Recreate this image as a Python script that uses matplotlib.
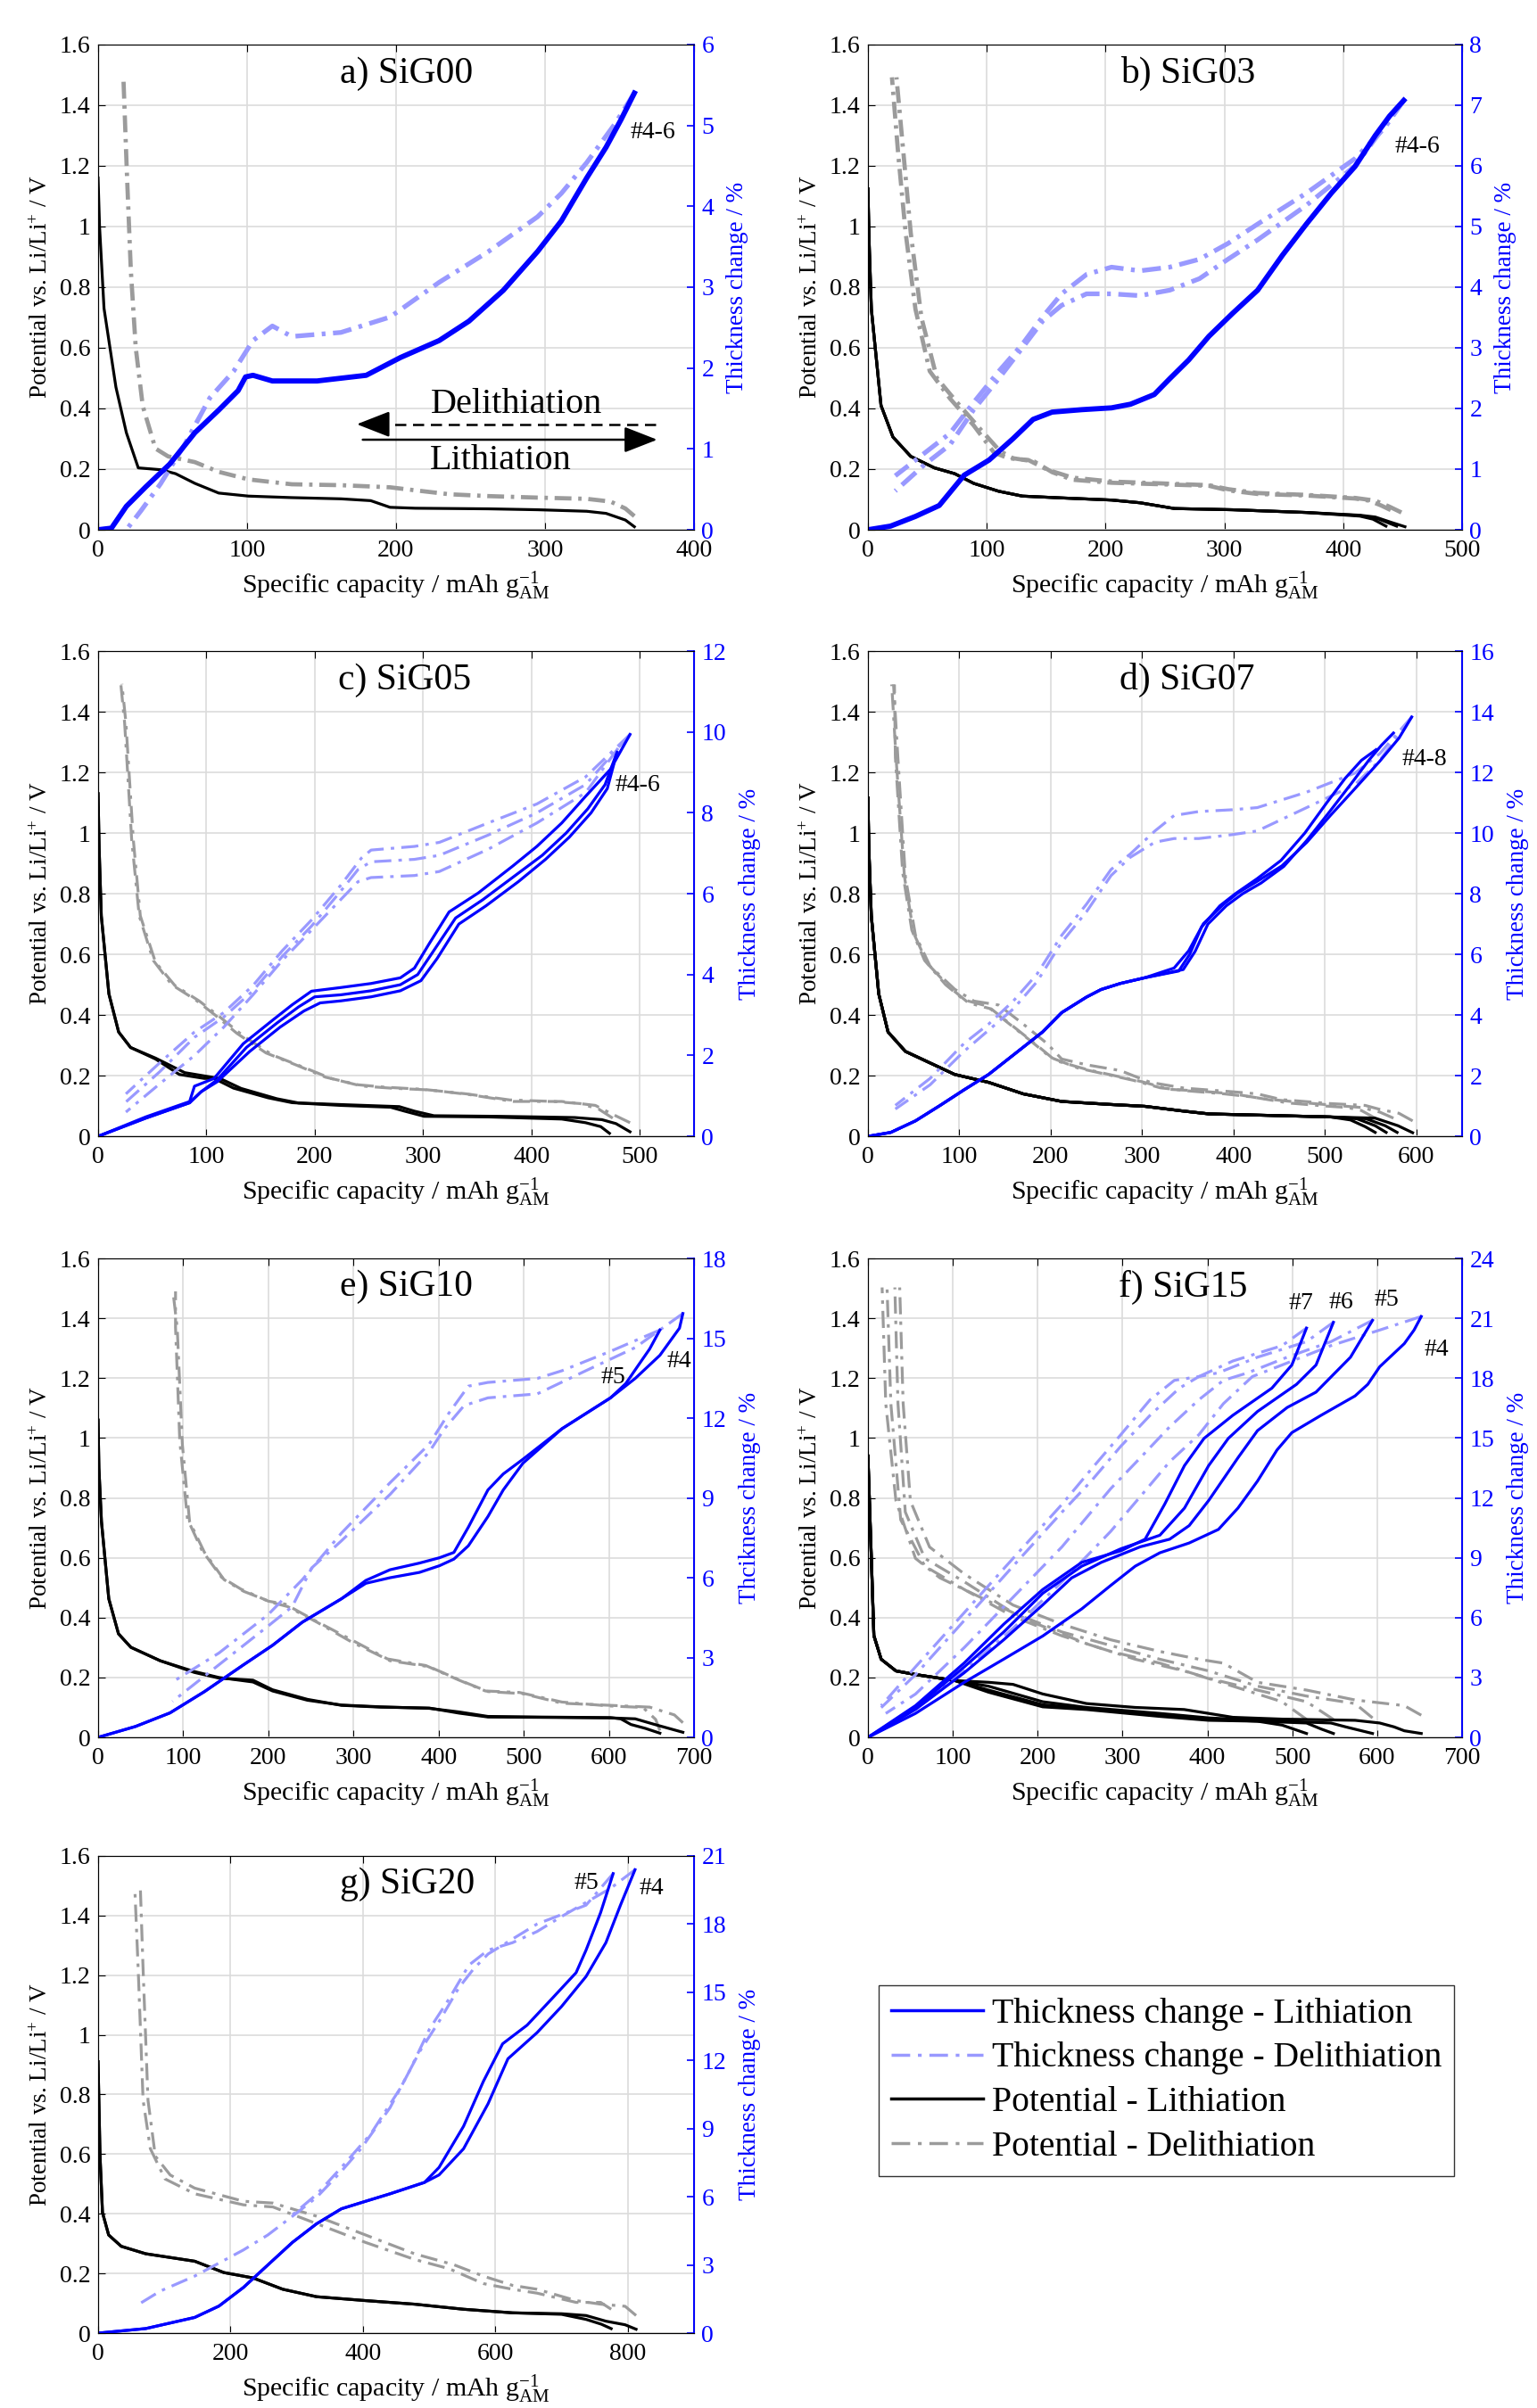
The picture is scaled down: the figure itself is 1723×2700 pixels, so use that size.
import matplotlib
matplotlib.use("Agg")
import matplotlib.pyplot as plt
from matplotlib.lines import Line2D
from matplotlib.ticker import FuncFormatter

plt.rcParams['font.family'] = ['Liberation Serif', 'DejaVu Serif']
plt.rcParams['mathtext.fontset'] = 'custom'
plt.rcParams['mathtext.rm'] = 'Liberation Serif'
plt.rcParams['mathtext.it'] = 'Liberation Serif:italic'

BLUE = '#0000FF'
LBLUE = '#9999FF'
GRAY = '#9B9B9B'
DASHDOT = (0, (6, 2.5, 1.2, 2.5))

# ---------------- a) SiG00 ----------------
a_pot_li = [[(0, 1.16), (1, 1.0), (4, 0.73), (12, 0.47), (19, 0.32), (27, 0.204), (42, 0.198),
             (52, 0.185), (65, 0.153), (81, 0.121), (101, 0.111), (130, 0.106), (163, 0.102),
             (183, 0.096), (196, 0.074), (213, 0.071), (262, 0.069), (295, 0.066), (328, 0.061),
             (341, 0.054), (354, 0.032), (360, 0.01)]]
a_pot_de = [[(360, 0.045), (354, 0.07), (344, 0.093), (328, 0.102), (295, 0.106), (262, 0.111),
             (236, 0.117), (213, 0.13), (196, 0.14), (163, 0.147), (130, 0.15), (101, 0.166),
             (81, 0.191), (65, 0.223), (47, 0.242), (38.5, 0.268), (30, 0.408), (25.3, 0.6),
             (22, 0.855), (19.4, 1.17), (17.1, 1.479)]]
a_th_li = [[(0, 0), (9, 0.02), (19, 0.29), (32, 0.53), (48, 0.81), (65, 1.2), (81, 1.48),
            (94, 1.72), (99, 1.89), (104, 1.91), (117, 1.84), (147, 1.84), (180, 1.91),
            (203, 2.13), (229, 2.34), (249, 2.58), (272, 2.96), (295, 3.44), (311, 3.82),
            (328, 4.35), (341, 4.73), (351, 5.07), (360, 5.4)]]
a_th_de = [[(360, 5.4), (347, 5.02), (328, 4.54), (311, 4.16), (295, 3.87), (262, 3.44),
            (229, 3.06), (196, 2.63), (163, 2.44), (130, 2.39), (117, 2.52), (104, 2.34),
            (91, 1.96), (75, 1.63), (58, 1.05), (42, 0.57), (29, 0.24), (19, 0)]]

# ---------------- b) SiG03 ----------------
b_li_head = [(0, 1.124), (1, 0.95), (2.9, 0.727), (11, 0.41), (21, 0.306), (36, 0.242),
             (56, 0.204), (73, 0.185), (89, 0.153), (110, 0.127), (130, 0.111), (163, 0.105),
             (205, 0.098), (229, 0.089), (258, 0.07), (307, 0.066), (369, 0.057)]
b_pot_li = [b_li_head + [(414, 0.045), (425, 0.035), (436, 0.012)],
            b_li_head + [(414, 0.047), (430, 0.035), (445, 0.012)],
            b_li_head + [(414, 0.048), (427, 0.042), (440, 0.025), (452, 0.01)]]
b_pot_de = [[(449, 0.057), (439, 0.076), (427, 0.096), (410, 0.105), (369, 0.115), (328, 0.121),
             (303, 0.134), (287, 0.147), (246, 0.153), (205, 0.159), (172, 0.172), (151, 0.198),
             (135, 0.23), (118, 0.236), (106, 0.255), (89, 0.344), (69, 0.433), (52, 0.523),
             (40, 0.727), (31.7, 0.98), (25.5, 1.237), (20.2, 1.492)],
            [(440, 0.065), (432, 0.08), (422, 0.096), (410, 0.103), (369, 0.113), (328, 0.118),
             (303, 0.13), (287, 0.145), (246, 0.15), (205, 0.155), (172, 0.165), (155, 0.19),
             (140, 0.225), (122, 0.236), (111, 0.26), (95, 0.33), (75, 0.42), (58, 0.5),
             (45, 0.7), (36, 0.98), (30, 1.237), (24, 1.492)]]
b_th_li = [[(0, 0), (19, 0.06), (40, 0.22), (60, 0.4), (81, 0.9), (102, 1.15), (122, 1.5),
            (139, 1.82), (155, 1.94), (180, 1.98), (205, 2.01), (221, 2.07), (241, 2.23),
            (254, 2.49), (270, 2.8), (287, 3.19), (307, 3.57), (328, 3.95), (349, 4.53),
            (369, 5.04), (390, 5.55), (410, 5.99), (427, 6.5), (439, 6.82), (451, 7.08)]]
b_th_de = [[(451, 7.08), (435, 6.63), (410, 6.12), (369, 5.55), (328, 5.04), (303, 4.72),
            (279, 4.46), (254, 4.33), (229, 4.27), (205, 4.33), (184, 4.21), (163, 3.89),
            (147, 3.51), (130, 3.06), (110, 2.61), (89, 2.1), (69, 1.59), (48, 1.27), (23, 0.89)],
           [(451, 7.08), (410, 6.0), (369, 5.35), (328, 4.78), (303, 4.46), (279, 4.14),
            (254, 3.95), (229, 3.86), (205, 3.89), (184, 3.89), (163, 3.7), (147, 3.44),
            (130, 3.0), (110, 2.49), (89, 1.98), (69, 1.4), (48, 1.08), (23, 0.64)]]

# ---------------- c) SiG05 ----------------
c_pot_li = [[(0, 1.13), (1, 0.95), (3, 0.727), (10, 0.47), (19, 0.344), (30, 0.293), (53, 0.255),
             (75, 0.204), (98, 0.191), (107, 0.191), (125, 0.159), (157, 0.127), (179, 0.111),
             (224, 0.102), (270, 0.096), (283, 0.083), (301, 0.066), (360, 0.064), (428, 0.057),
             (450, 0.045), (464, 0.032), (472, 0.01)],
            [(0, 1.13), (1, 0.95), (3, 0.727), (10, 0.47), (19, 0.344), (30, 0.293), (53, 0.258),
             (80, 0.21), (105, 0.195), (113, 0.19), (132, 0.158), (165, 0.124), (185, 0.11),
             (230, 0.104), (278, 0.098), (292, 0.083), (310, 0.068), (370, 0.066), (440, 0.062),
             (465, 0.055), (478, 0.042), (491, 0.015)]]
c_pot_de = [[(491, 0.045), (473, 0.076), (459, 0.102), (428, 0.115), (383, 0.115), (342, 0.138),
             (306, 0.153), (270, 0.159), (243, 0.166), (215, 0.191), (188, 0.23), (161, 0.268),
             (134, 0.331), (112, 0.395), (93.5, 0.446), (71, 0.497), (53, 0.574), (39, 0.727),
             (32.5, 0.98), (25.7, 1.364), (22, 1.492)],
            [(475, 0.06), (462, 0.09), (445, 0.108), (420, 0.115), (380, 0.12), (340, 0.14),
             (300, 0.155), (265, 0.162), (240, 0.17), (210, 0.195), (183, 0.235), (155, 0.275),
             (128, 0.34), (108, 0.4), (90, 0.45), (68, 0.5), (51, 0.58), (38, 0.727), (31, 0.98),
             (24.5, 1.364), (21, 1.492)]]
c_th_li = [[(0, 0), (44, 0.48), (84.5, 0.86), (89, 1.24), (107, 1.43), (134, 2.29), (161, 2.87),
            (179, 3.25), (197, 3.59), (224, 3.68), (252, 3.78), (279, 3.92), (292, 4.16),
            (306, 4.78), (324, 5.55), (351, 6.02), (383, 6.69), (405, 7.17), (428, 7.75),
            (450, 8.41), (473, 9.08), (491, 9.94)],
           [(0, 0), (44, 0.45), (84.5, 0.83), (95, 1.1), (110, 1.4), (137, 2.2), (165, 2.8),
            (185, 3.2), (200, 3.45), (224, 3.5), (252, 3.6), (279, 3.75), (295, 4.0), (310, 4.6),
            (330, 5.4), (355, 5.85), (385, 6.45), (410, 6.95), (432, 7.5), (452, 8.1), (468, 8.7),
            (479, 9.5)],
           [(0, 0), (44, 0.45), (84.5, 0.83), (95, 1.1), (110, 1.35), (140, 2.1), (168, 2.7),
            (190, 3.1), (205, 3.3), (224, 3.35), (252, 3.45), (279, 3.6), (298, 3.85), (313, 4.4),
            (333, 5.25), (358, 5.7), (388, 6.3), (413, 6.85), (435, 7.4), (455, 8.0), (470, 8.6),
            (476, 9.2)]]
c_th_de = [[(491, 9.94), (450, 8.89), (405, 8.22), (360, 7.75), (315, 7.27), (292, 7.17),
            (252, 7.08), (243, 6.88), (224, 6.21), (197, 5.35), (170, 4.59), (143, 3.73),
            (116, 3.06), (89, 2.58), (57, 1.82), (25.7, 1.05)],
           [(491, 9.94), (450, 8.7), (405, 8.0), (360, 7.45), (315, 6.95), (292, 6.85),
            (252, 6.79), (240, 6.6), (222, 6.0), (197, 5.2), (170, 4.45), (143, 3.6),
            (116, 2.95), (89, 2.45), (57, 1.6), (25.7, 0.85)],
           [(480, 9.6), (450, 8.5), (405, 7.75), (360, 7.1), (315, 6.55), (292, 6.45),
            (252, 6.4), (240, 6.3), (222, 5.8), (197, 5.1), (170, 4.35), (143, 3.5),
            (116, 2.7), (89, 2.0), (57, 1.3), (25.7, 0.6)]]

# ---------------- d) SiG07 ----------------
d_li_head = [(0, 1.116), (1, 0.95), (3.7, 0.727), (11.8, 0.47), (22, 0.344), (41, 0.28),
             (68, 0.242), (95, 0.204), (132, 0.178), (170, 0.14), (212, 0.115), (266, 0.105),
             (303, 0.099), (346, 0.083), (373, 0.074), (426, 0.07), (506, 0.064)]
d_pot_li = [d_li_head + [(528, 0.054), (544, 0.032), (555, 0.013)],
            d_li_head + [(535, 0.058), (555, 0.035), (567, 0.013)],
            d_li_head + [(545, 0.058), (566, 0.035), (579, 0.013)],
            d_li_head + [(555, 0.06), (580, 0.035), (596, 0.012)]]
d_pot_de = [[(596, 0.051), (581, 0.076), (560, 0.089), (544, 0.102), (506, 0.108), (453, 0.121),
             (426, 0.14), (399, 0.147), (346, 0.159), (309, 0.178), (276, 0.217), (239, 0.236),
             (212, 0.255), (196, 0.306), (170, 0.37), (143, 0.433), (116, 0.446), (95, 0.485),
             (68, 0.561), (52, 0.663), (41, 0.855), (33, 1.237), (28, 1.49)],
            [(575, 0.06), (560, 0.08), (540, 0.095), (520, 0.1), (480, 0.11), (430, 0.125),
             (400, 0.14), (360, 0.15), (330, 0.155), (300, 0.18), (270, 0.2), (240, 0.22),
             (205, 0.25), (185, 0.3), (160, 0.36), (135, 0.42), (110, 0.44), (90, 0.49),
             (65, 0.57), (50, 0.67), (40, 0.855), (31, 1.237), (26, 1.49)],
            [(555, 0.06), (540, 0.085), (525, 0.095), (500, 0.1), (460, 0.11), (420, 0.13),
             (390, 0.14), (350, 0.15), (320, 0.16), (290, 0.185), (260, 0.205), (230, 0.225),
             (200, 0.26), (180, 0.31), (155, 0.37), (130, 0.43), (105, 0.45), (85, 0.5),
             (62, 0.58), (48, 0.68), (38, 0.87), (30, 1.25), (29, 1.49)]]
d_th_head = [(0, 0), (25, 0.13), (52, 0.51), (79, 1.02), (105, 1.53), (132, 2.04), (159, 2.68),
             (191, 3.44), (212, 4.08), (239, 4.59), (255, 4.84), (276, 5.04), (303, 5.23)]
d_th_li = [d_th_head + [(335, 5.55), (351, 6.12), (367, 7.01), (389, 7.65), (405, 8.03),
                        (426, 8.41), (453, 8.92), (480, 9.69), (506, 10.58), (533, 11.47),
                        (560, 12.37), (581, 13.13), (595, 13.83)],
           d_th_head + [(345, 5.5), (358, 6.1), (372, 7.0), (392, 7.6), (410, 8.0), (430, 8.35),
                        (455, 8.9), (480, 9.75), (505, 10.7), (528, 11.6), (548, 12.4),
                        (562, 12.9), (575, 13.3)],
           d_th_head + [(340, 5.45), (352, 6.0), (365, 6.9), (385, 7.6), (402, 8.0), (426, 8.5),
                        (452, 9.1), (478, 10.0), (502, 11.0), (522, 11.8), (540, 12.4),
                        (556, 12.75)]]
d_th_de = [[(595, 13.83), (560, 12.62), (533, 11.98), (480, 11.35), (426, 10.84), (399, 10.77),
            (362, 10.71), (335, 10.58), (314, 10.07), (287, 9.31), (266, 8.8), (239, 7.65),
            (212, 6.63), (185, 5.35), (159, 4.46), (132, 3.7), (105, 3.06), (68, 1.91), (30, 1.02)],
           [(595, 13.83), (560, 12.4), (533, 11.6), (480, 10.84), (426, 10.07), (399, 9.95),
            (362, 9.82), (335, 9.82), (314, 9.7), (287, 9.2), (266, 8.6), (239, 7.4), (212, 6.4),
            (185, 5.1), (159, 4.2), (132, 3.5), (105, 2.8), (68, 1.7), (30, 0.9)]]

# ---------------- e) SiG10 ----------------
e_pot_li = [[(0, 1.06), (1, 0.9), (4, 0.721), (12.6, 0.463), (24, 0.346), (38.5, 0.301),
             (73, 0.256), (113, 0.217), (142, 0.198), (182, 0.191), (205, 0.159), (246, 0.127),
             (286, 0.107), (332, 0.101), (389, 0.098), (424, 0.081), (458, 0.068), (516, 0.067),
             (602, 0.065), (631, 0.062), (654, 0.043), (687, 0.017)],
            [(0, 1.06), (1, 0.9), (4, 0.721), (12.6, 0.463), (24, 0.346), (38.5, 0.301),
             (73, 0.256), (113, 0.22), (142, 0.2), (182, 0.185), (205, 0.155), (246, 0.124),
             (286, 0.108), (332, 0.102), (389, 0.097), (424, 0.085), (458, 0.07), (516, 0.068),
             (602, 0.066), (614, 0.062), (626, 0.043), (643, 0.03), (660, 0.014)]]
e_pot_de = [[(687, 0.049), (677, 0.075), (648, 0.101), (602, 0.107), (545, 0.114), (499, 0.146),
             (458, 0.153), (430, 0.185), (389, 0.236), (343, 0.256), (297, 0.32), (257, 0.385),
             (222.6, 0.437), (205, 0.45), (171, 0.488), (148, 0.527), (125, 0.618),
             (107.5, 0.721), (99, 0.98), (93, 1.367), (88, 1.49)],
            [(660, 0.023), (655, 0.06), (640, 0.1), (600, 0.105), (545, 0.118), (495, 0.15),
             (455, 0.155), (425, 0.19), (385, 0.24), (340, 0.262), (295, 0.33), (255, 0.39),
             (220, 0.445), (200, 0.455), (168, 0.495), (145, 0.535), (122, 0.625), (105, 0.73),
             (96, 0.99), (91, 1.37), (91, 1.49)]]
e_th_li = [[(0, 0), (44, 0.41), (84.5, 0.92), (125, 1.72), (171, 2.73), (205, 3.46), (240, 4.33),
            (286, 5.21), (314.6, 5.79), (343, 6.0), (377.5, 6.2), (401, 6.45), (418, 6.7),
            (435, 7.2), (458, 8.3), (476, 9.3), (499, 10.3), (545, 11.6), (602, 12.76),
            (631, 13.49), (660, 14.36), (683, 15.38), (687, 15.93)],
           [(0, 0), (44, 0.41), (84.5, 0.92), (125, 1.72), (171, 2.73), (205, 3.46), (240, 4.33),
            (286, 5.21), (314.6, 5.9), (343, 6.3), (377.5, 6.55), (401, 6.75), (418, 6.95),
            (435, 7.9), (458, 9.3), (476, 9.9), (499, 10.45), (545, 11.6), (602, 12.76),
            (620, 13.3), (635, 14.0), (648, 14.6), (660, 15.31)]]
e_th_de = [[(660, 15.31), (602, 14.51), (545, 13.78), (516, 13.49), (458, 13.34), (435, 13.2),
            (412, 12.18), (389, 11.02), (343, 9.57), (286, 7.68), (240, 5.93), (200, 4.62),
            (142, 3.17), (87.4, 2.08)],
           [(687, 15.93), (631, 14.65), (573, 13.78), (516, 12.91), (458, 12.76), (430, 12.47),
            (407, 11.6), (389, 10.73), (343, 9.13), (286, 7.39), (251, 6.37), (228, 4.91),
            (200, 4.19), (148, 2.88), (87.4, 1.35)]]

# ---------------- f) SiG15 (cycles #4..#7) ----------------
f_li_head = [(0, 0.94), (1, 0.856), (4, 0.6), (7, 0.34), (15.6, 0.261), (33, 0.222),
             (56, 0.21), (102, 0.19)]
f_pot_li = [f_li_head + [(142, 0.184), (171, 0.177), (206, 0.145), (257.5, 0.113), (315, 0.1),
                         (372.6, 0.093), (401.5, 0.08), (430, 0.067), (488, 0.061), (574, 0.057),
                         (603, 0.048), (620, 0.035), (632, 0.022), (652, 0.013)],
            f_li_head + [(142, 0.171), (206, 0.119), (257.5, 0.1), (344, 0.08), (401.5, 0.065),
                         (459, 0.057), (545.6, 0.048), (563, 0.035), (594.6, 0.013)],
            f_li_head + [(142, 0.158), (206, 0.109), (257.5, 0.096), (344, 0.074), (401.5, 0.061),
                         (459, 0.054), (516.8, 0.048), (534, 0.028), (548.5, 0.013)],
            f_li_head + [(142, 0.151), (206, 0.102), (257.5, 0.093), (344, 0.07), (401.5, 0.057),
                         (459, 0.054), (488, 0.041), (516.8, 0.013)]]
f_pot_de = [[(652, 0.074), (632, 0.106), (574, 0.125), (516.8, 0.158), (459, 0.184),
             (418.8, 0.248), (390, 0.261), (344, 0.287), (286, 0.326), (228.7, 0.378),
             (171, 0.442), (113.5, 0.546), (72.6, 0.636), (50, 0.79), (41.5, 1.115),
             (37.4, 1.503)],
            [(594.6, 0.065), (574, 0.113), (516.8, 0.138), (459, 0.171), (401.5, 0.222),
             (344, 0.261), (286, 0.307), (228.7, 0.352), (171, 0.416), (113.5, 0.52), (67, 0.598),
             (44, 0.753), (35.4, 1.115), (31.7, 1.503)],
            [(548.5, 0.06), (516.8, 0.119), (459, 0.158), (401.5, 0.197), (344, 0.248),
             (286, 0.287), (228.7, 0.339), (171, 0.404), (113.5, 0.494), (67, 0.572),
             (38.6, 0.727), (27, 1.115), (22.5, 1.503)],
            [(516.8, 0.06), (488, 0.119), (430, 0.171), (372.6, 0.222), (315, 0.261),
             (257.5, 0.313), (200, 0.378), (142, 0.455), (84.7, 0.533), (56, 0.598), (33, 0.79),
             (21, 1.115), (16.7, 1.503)]]
f_th_li = [[(0, 0), (56, 1.2), (113.5, 2.76), (160, 3.92), (206, 5.08), (252, 6.44), (286, 7.61),
            (315, 8.58), (344, 9.25), (378.5, 9.74), (413, 10.42), (436, 11.49), (459, 12.84),
            (482, 14.4), (499.5, 15.27), (534, 16.14), (574, 17.11), (589, 17.69), (603, 18.57),
            (632, 19.73), (643.5, 20.41), (652, 21.09)],
           [(0, 0), (56, 1.4), (113.5, 3.24), (160, 4.89), (206, 6.64), (240, 7.99), (275, 8.77),
            (321, 9.55), (355.5, 9.93), (378.5, 10.61), (401.5, 11.87), (436, 14.01),
            (459, 15.37), (494, 16.53), (528, 17.3), (568.6, 19.05), (594.6, 20.9)],
           [(0, 0), (56, 1.49), (113.5, 3.53), (160, 5.28), (206, 7.22), (252, 8.58), (298, 9.45),
            (344, 10.13), (373, 11.49), (401.5, 13.62), (424.6, 14.98), (459, 16.33),
            (505, 17.69), (528, 18.66), (548.5, 20.8)],
           [(0, 0), (56, 1.59), (113.5, 3.73), (160, 5.67), (206, 7.41), (252, 8.77), (298, 9.35),
            (326.6, 9.93), (349.6, 11.68), (373, 13.62), (396, 14.98), (430, 16.14),
            (476, 17.5), (499.5, 18.66), (516.8, 20.51)]]
f_th_de = [[(652, 21.09), (603, 20.41), (545.6, 19.63), (488, 18.66), (453, 18.08),
            (418.8, 16.72), (390, 15.17), (355.5, 13.81), (321, 12.07), (286, 10.32),
            (228.7, 7.8), (171, 5.47), (113.5, 3.34), (56, 1.4), (32.8, 0.81)],
           [(594.6, 20.9), (545.6, 19.83), (494, 19.05), (447.7, 18.27), (418.8, 17.89),
            (390, 16.92), (355.5, 15.56), (321, 14.01), (286, 12.46), (228.7, 9.55), (171, 7.02),
            (113.5, 4.5), (56, 2.17), (21, 1.2)],
           [(548.5, 20.8), (516.8, 19.83), (459, 19.05), (413, 18.27), (390, 18.08), (367, 17.5),
            (332.5, 16.14), (298, 14.59), (263, 12.84), (228.7, 11.29), (171, 8.58),
            (113.5, 5.86), (56, 3.14), (15.6, 1.49)],
           [(516.8, 20.51), (488, 19.63), (430, 18.86), (390, 18.08), (361, 17.89),
            (332.5, 16.92), (298, 15.17), (263, 13.43), (228.7, 11.68), (171, 8.97),
            (113.5, 6.25), (56, 3.53), (15.6, 1.59)]]

# ---------------- g) SiG20 (cycles #4, #5) ----------------
g_li_head = [(0, 0.91), (3, 0.593), (6.7, 0.404), (16, 0.329), (35, 0.291), (72, 0.266),
             (146, 0.241), (190, 0.203), (234, 0.185), (279, 0.147), (330, 0.122), (404, 0.109),
             (478, 0.097), (552, 0.08), (626, 0.068)]
g_pot_li = [g_li_head + [(700, 0.065), (737, 0.059), (767, 0.04), (796, 0.028), (812.6, 0.013)],
            g_li_head + [(700, 0.063), (737, 0.046), (760, 0.03), (775, 0.015)]]
g_pot_de = [[(812.6, 0.059), (796, 0.09), (759, 0.097), (722, 0.109), (663, 0.147), (626, 0.16),
             (582, 0.191), (537.6, 0.229), (478, 0.266), (404, 0.329), (330, 0.392), (264, 0.436),
             (219.6, 0.442), (146, 0.486), (109, 0.53), (86.5, 0.593), (75.4, 0.781),
             (68, 1.221), (64, 1.484)],
            [(775, 0.08), (759, 0.103), (722, 0.103), (663, 0.134), (626, 0.147), (582, 0.166),
             (530, 0.216), (478, 0.247), (404, 0.304), (330, 0.367), (264, 0.423), (219.6, 0.43),
             (146, 0.467), (101, 0.517), (79, 0.618), (68, 0.781), (60.6, 1.221), (55.5, 1.491)]]
g_th_head = [(0, 0), (72, 0.2), (146, 0.69), (182.6, 1.19), (219.6, 2.01), (256.5, 3.0),
             (293.5, 3.99), (330, 4.81), (367.5, 5.47), (404, 5.8), (441, 6.13), (493, 6.63)]
g_th_li = [g_th_head + [(515, 6.96), (552, 8.11), (589, 10.09), (619, 12.07), (663, 13.22),
                        (700, 14.37), (737, 15.69), (767, 17.18), (789, 18.83), (811, 20.39)],
           g_th_head + [(515, 7.29), (552, 9.1), (582, 11.08), (611, 12.73), (648, 13.55),
                        (685, 14.7), (722, 15.86), (737, 16.85), (759, 18.5), (778, 20.22)]]
g_th_de = [[(811, 20.39), (774, 19.57), (700, 18.33), (663, 17.67), (626, 17.18), (589, 16.85),
            (560, 16.19), (530, 14.7), (500.6, 13.38), (471, 11.57), (441, 9.92), (397, 8.11),
            (367.5, 7.12), (330, 5.97), (293.5, 5.14), (256.5, 4.32), (219.6, 3.66), (146, 2.51),
            (94, 1.85), (57, 1.19)],
           [(778, 20.22), (737, 18.83), (663, 18.0), (626, 17.34), (589, 16.68), (567, 16.02),
            (545, 15.2), (515, 13.71), (486, 12.4), (456, 10.75), (412, 8.77), (367.5, 7.29),
            (330, 6.1), (293.5, 5.2)]]

# panel layout / axis settings
COL_X = [0.0638, 0.5647]
COL_W = [0.3877, 0.3865]
ROW_Y = [0.780, 0.5281, 0.2785, 0.0311]
ROW_H = [0.2015, 0.2015, 0.1989, 0.1982]

panels = [
    dict(title='a) SiG00', r=0, c=0, xmax=400, xticks=range(0, 401, 100), rmax=6, rstep=1,
         tx=0.517, data=(a_pot_li, a_pot_de, a_th_li, a_th_de), notes=[('#4-6', 357, 1.31)],
         rlabel='Thickness change / %', wide=True),
    dict(title='b) SiG03', r=0, c=1, xmax=500, xticks=range(0, 501, 100), rmax=8, rstep=1,
         tx=0.538, data=(b_pot_li, b_pot_de, b_th_li, b_th_de), notes=[('#4-6', 443, 1.262)],
         rlabel='Thickness change / %', wide=True),
    dict(title='c) SiG05', r=1, c=0, xmax=550, xticks=range(0, 501, 100), rmax=12, rstep=2,
         tx=0.515, data=(c_pot_li, c_pot_de, c_th_li, c_th_de), notes=[('#4-6', 477, 1.158)],
         rlabel='Thickness change / %', wide=False),
    dict(title='d) SiG07', r=1, c=1, xmax=650, xticks=range(0, 601, 100), rmax=16, rstep=2,
         tx=0.537, data=(d_pot_li, d_pot_de, d_th_li, d_th_de), notes=[('#4-8', 584, 1.243)],
         rlabel='Thickness change / %', wide=False),
    dict(title='e) SiG10', r=2, c=0, xmax=700, xticks=range(0, 701, 100), rmax=18, rstep=3,
         tx=0.517, data=(e_pot_li, e_pot_de, e_th_li, e_th_de),
         notes=[('#5', 591, 1.202), ('#4', 668, 1.257)],
         rlabel='Thcikness change / %', wide=False),
    dict(title='f) SiG15', r=2, c=1, xmax=700, xticks=range(0, 701, 100), rmax=24, rstep=3,
         tx=0.53, data=(f_pot_li, f_pot_de, f_th_li, f_th_de),
         notes=[('#7', 496, 1.449), ('#6', 543, 1.454), ('#5', 597, 1.461), ('#4', 655, 1.296)],
         rlabel='Thickness change / %', wide=False),
    dict(title='g) SiG20', r=3, c=0, xmax=900, xticks=range(0, 801, 200), rmax=21, rstep=3,
         tx=0.519, data=(g_pot_li, g_pot_de, g_th_li, g_th_de),
         notes=[('#5', 719, 1.507), ('#4', 817, 1.49)],
         rlabel='Thickness change / %', wide=False),
]

# arrows in panel a: (x_start, x_tip, y)
arrow_delith = (374, 172, 0.348)
arrow_lith = (176, 377, 0.297)

TICK_FS = 20
XLABEL_FS = 21.5
YLABEL_FS = 19.5

fig = plt.figure(figsize=(17.23, 27.0), dpi=100)


def draw(ax, cycles, **kw):
    for cyc in cycles:
        xs = [p[0] for p in cyc]
        ys = [p[1] for p in cyc]
        ax.plot(xs, ys, **kw)


for p in panels:
    ax = fig.add_axes([COL_X[p['c']], ROW_Y[p['r']], COL_W[p['c']], ROW_H[p['r']]])
    ax2 = ax.twinx()
    pot_li, pot_de, th_li, th_de = p['data']
    wide = p['wide']

    # a) and b) are noisy bands in the original, drawn thicker here
    draw(ax, pot_de, color=GRAY, lw=3.4 if wide else 2.3,
         ls=(0, (4, 1.6, 0.8, 1.6)) if wide else DASHDOT)
    draw(ax, pot_li, color='k', lw=2.3)
    draw(ax2, th_de, color=LBLUE, lw=3.8 if wide else 2.3,
         ls=(0, (4, 1.6, 0.8, 1.6)) if wide else DASHDOT)
    draw(ax2, th_li, color=BLUE, lw=4.2 if wide else 2.3)

    ax.set_xlim(0, p['xmax'])
    ax.set_ylim(0, 1.6)
    ax.set_xticks(list(p['xticks']))
    ax.set_yticks([0, 0.2, 0.4, 0.6, 0.8, 1.0, 1.2, 1.4, 1.6])
    ax.yaxis.set_major_formatter(FuncFormatter(lambda v, pos: f'{v:g}'))
    ax.grid(True, color='#DCDCDC', lw=1.2)
    ax.set_axisbelow(True)
    ax.tick_params(axis='both', direction='in', length=6, labelsize=TICK_FS, top=True)
    ax.tick_params(axis='x', pad=8)
    ax.tick_params(axis='y', pad=6)

    ax2.set_ylim(0, p['rmax'])
    ax2.set_yticks(list(range(0, p['rmax'] + 1, p['rstep'])))
    ax2.tick_params(axis='y', direction='in', length=6, labelsize=TICK_FS,
                    colors=BLUE, width=1.2, pad=6)
    ax2.spines['right'].set_color(BLUE)
    ax2.spines['right'].set_linewidth(1.4)

    ax.set_xlabel(r'Specific capacity / mAh g$_{\mathrm{AM}}^{\mathrm{-1}}$', fontsize=XLABEL_FS,
                  labelpad=6)
    ax.set_ylabel(r'Potential vs. Li/Li$^{+}$ / V', fontsize=YLABEL_FS, labelpad=6)
    ax2.set_ylabel(p['rlabel'], fontsize=YLABEL_FS, color=BLUE, labelpad=10)

    ax.text(p['tx'], 0.94, p['title'], transform=ax.transAxes, ha='center', va='center',
            fontsize=30)
    for txt, nx, ny in p['notes']:
        ax.text(nx, ny, txt, ha='left', va='center', fontsize=20)

    if p['title'].startswith('a)'):
        xs0, xt0, y0 = arrow_delith
        ax.plot([xs0, xt0 + 14], [y0, y0], color='k', lw=1.8, ls=(0, (5, 3)))
        ax.annotate('', xy=(xt0, y0), xytext=(xt0 + 15, y0),
                    arrowprops=dict(arrowstyle='-|>,head_length=2.3,head_width=0.9',
                                    color='k', lw=1.8, mutation_scale=10))
        xs1, xt1, y1 = arrow_lith
        ax.annotate('', xy=(xt1, y1), xytext=(xs1, y1),
                    arrowprops=dict(arrowstyle='-|>,head_length=2.3,head_width=0.9',
                                    color='k', lw=1.8, mutation_scale=10))
        ax.text(281, 0.414, 'Delithiation', ha='center', va='center', fontsize=29)
        ax.text(270, 0.229, 'Lithiation', ha='center', va='center', fontsize=29)

handles = [Line2D([], [], color=BLUE, lw=2.5),
           Line2D([], [], color=LBLUE, lw=2.5, ls=DASHDOT),
           Line2D([], [], color='k', lw=2.5),
           Line2D([], [], color=GRAY, lw=2.5, ls=DASHDOT)]
labels = ['Thickness change - Lithiation', 'Thickness change - Delithiation',
          'Potential - Lithiation', 'Potential - Delithiation']
fig.legend(handles, labels, loc='upper left', bbox_to_anchor=(0.5717, 0.1756), fontsize=28.5,
           frameon=True, fancybox=False, edgecolor='#333333', framealpha=1,
           handlelength=2.6, handletextpad=0.25, labelspacing=0.32, borderpad=0.35,
           borderaxespad=0)

fig.savefig('out.png', dpi=100)
